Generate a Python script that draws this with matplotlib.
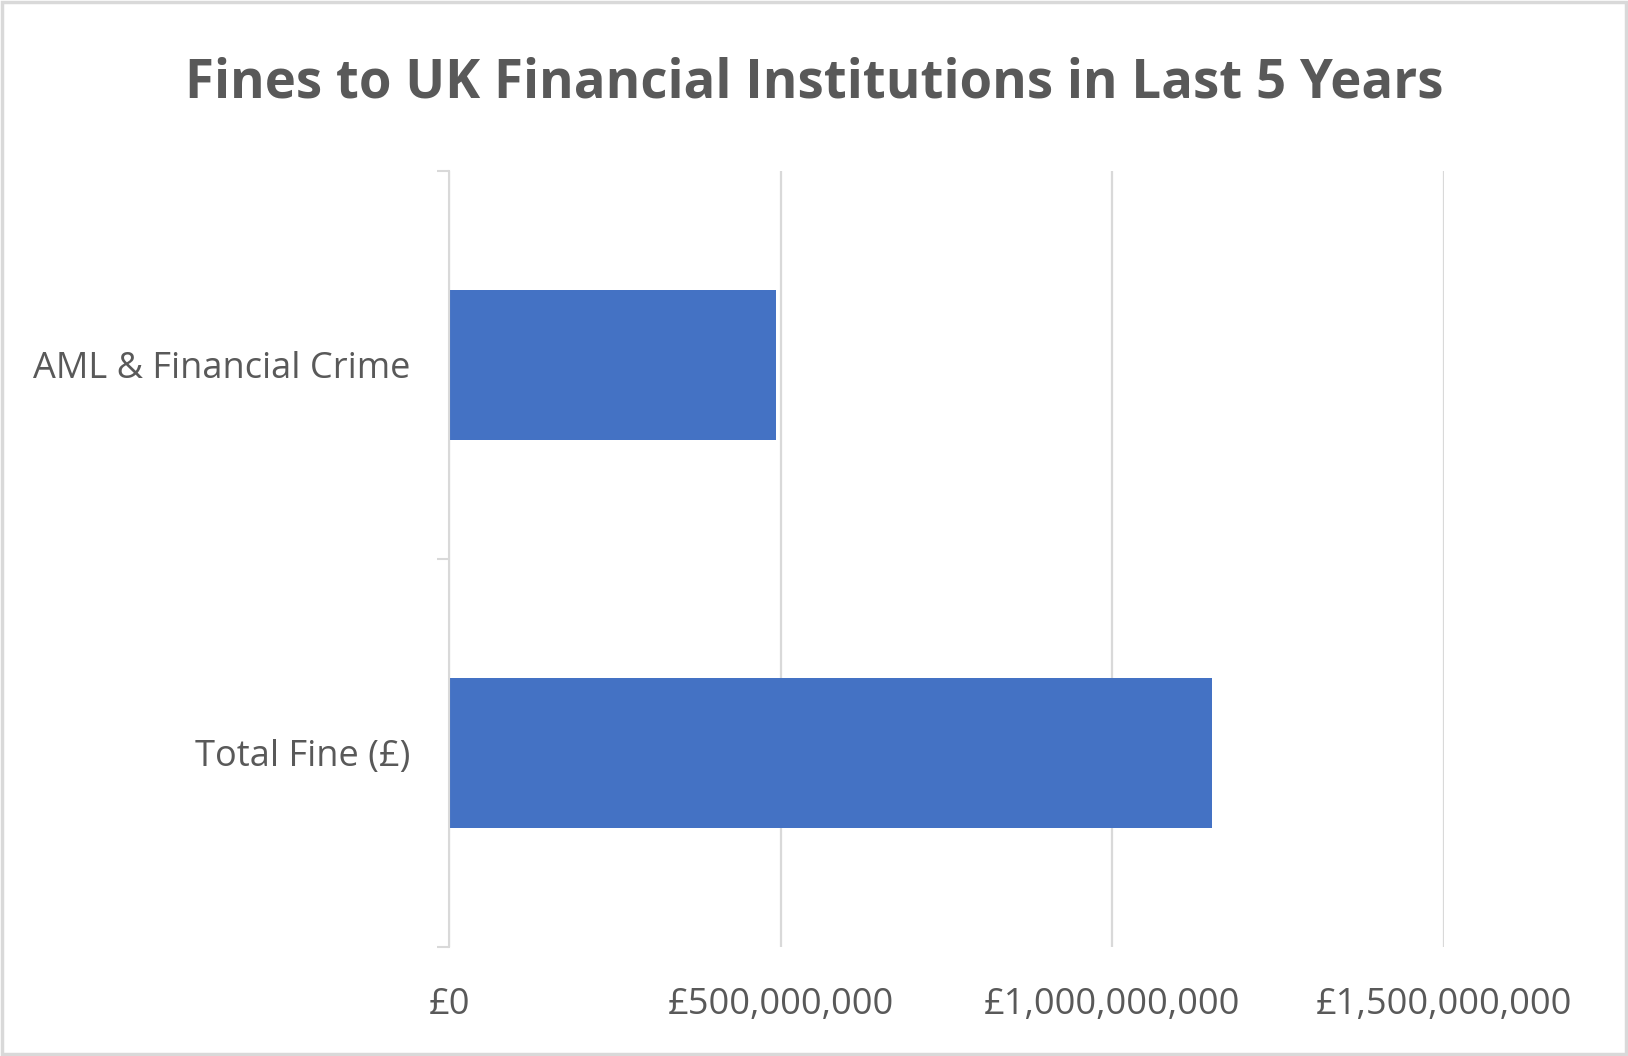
import matplotlib
matplotlib.use("Agg")
import matplotlib.pyplot as plt
from matplotlib.ticker import FuncFormatter, FixedLocator
from matplotlib.patches import Rectangle

categories = ["AML & Financial Crime", "Total Fine (£)"]
fines = [492_600_000, 1_150_000_000]
x_ticks = [0, 500_000_000, 1_000_000_000, 1_500_000_000]
title = "Fines to UK Financial Institutions in Last 5 Years"

TEXT = "#595959"
GRID = "#d9d9d9"
BAR = "#4472C4"

plt.rcParams['font.family'] = ['Open Sans', 'DejaVu Sans']

fig = plt.figure(figsize=(16.28, 10.56), dpi=100)
fig.patch.set_facecolor("white")
ax = fig.add_axes([449/1628, 1-947/1056, (1444-449)/1628, (947-171)/1056])

ypos = list(range(len(categories)))
ax.barh(ypos, fines, height=0.385, color=BAR, zorder=3)

ax.set_xlim(0, 1_500_000_000)
ax.set_ylim(len(categories)-0.5, -0.5)

ax.xaxis.set_major_locator(FixedLocator(x_ticks))
ax.xaxis.set_major_formatter(FuncFormatter(lambda v, p: f"£{v:,.0f}"))
ax.tick_params(axis='x', length=0, pad=29, labelsize=26, labelcolor=TEXT)
ax.grid(axis='x', color=GRID, linewidth=1.6, zorder=0)

ax.set_yticks([-0.5, 0.5, 1.5])
ax.set_yticklabels([])
ax.set_yticks(ypos, minor=True)
ax.set_yticklabels(categories, minor=True)
ax.tick_params(axis='y', which='major', length=9, width=1.5, color=GRID, direction='out')
ax.tick_params(axis='y', which='minor', length=0, pad=28, labelsize=26, labelcolor=TEXT)

for s in ['top', 'right', 'bottom']:
    ax.spines[s].set_visible(False)
ax.spines['left'].set_color(GRID)
ax.spines['left'].set_linewidth(1.5)
ax.spines['left'].set_zorder(4)

fig.text(0.5, 1-98/1056, title, ha='center', va='baseline', fontsize=38,
         fontweight='bold', color=TEXT)

fig.patches.append(Rectangle((0.001, 0.002), 0.998, 0.996, transform=fig.transFigure,
                             fill=False, edgecolor=GRID, linewidth=2.5))

fig.savefig("out.png", dpi=100, facecolor="white")
